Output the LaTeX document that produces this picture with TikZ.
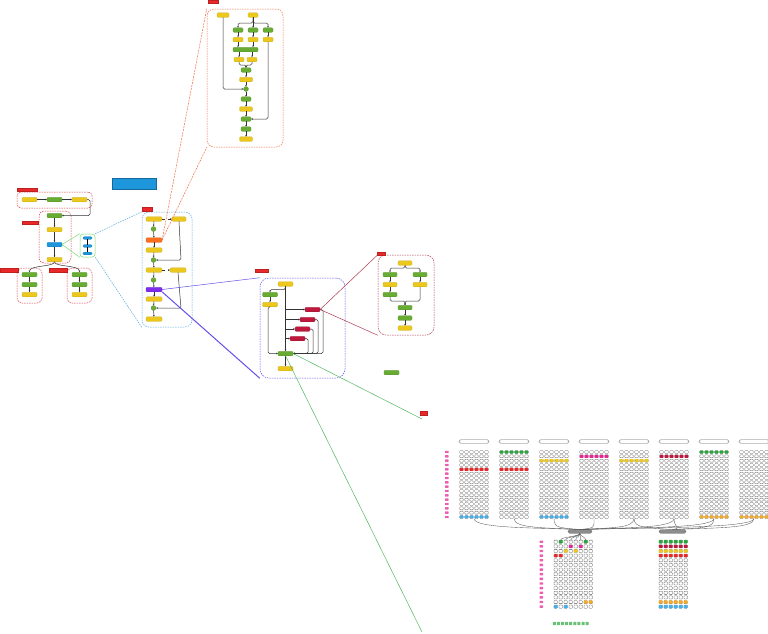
\documentclass[tikz,border=0pt]{standalone}
\usetikzlibrary{arrows.meta}
\definecolor{cYel}{RGB}{236,200,30}
\definecolor{cGrn}{RGB}{104,172,52}
\definecolor{cRed}{RGB}{235,40,40}
\definecolor{cBlu}{RGB}{30,150,220}
\definecolor{cOra}{RGB}{250,110,30}
\definecolor{cPur}{RGB}{125,45,235}
\definecolor{cCri}{RGB}{190,25,60}
\definecolor{cMag}{RGB}{230,40,150}
\definecolor{cAmb}{RGB}{245,170,40}
\definecolor{cSky}{RGB}{70,175,235}
\definecolor{cTG}{RGB}{40,165,60}
\definecolor{gOrg}{RGB}{240,110,70}
\definecolor{gRed}{RGB}{220,60,70}
\definecolor{gBlu}{RGB}{90,170,220}
\definecolor{gPur}{RGB}{100,80,235}
\definecolor{gDrk}{RGB}{170,60,80}
\definecolor{gLGr}{RGB}{120,220,110}
\begin{document}
\begin{tikzpicture}[x=1pt,y=-1pt,
  >={Stealth[length=1.8pt,width=1.6pt]},
  nd/.style={rectangle, rounded corners=1pt, inner sep=0pt, minimum height=4.5pt, minimum width=15pt, line width=0.2pt},
  yl/.style={nd, fill=cYel, draw=cYel!85!black},
  gn/.style={nd, fill=cGrn, draw=cGrn!85!black},
  bl/.style={nd, fill=cBlu, draw=cBlu!85!black},
  orn/.style={nd, fill=cOra, draw=cOra!85!black},
  pu/.style={nd, fill=cPur, draw=cPur!85!black},
  cr/.style={nd, fill=cCri, draw=cCri!85!black},
  ci/.style={circle, fill=cGrn, draw=cGrn!80!black, inner sep=0pt, minimum size=5pt, line width=0.2pt},
  lbl/.style={rectangle, fill=cRed, draw=cRed!80!black, inner sep=0pt, minimum height=3.5pt, line width=0.2pt},
  grp/.style={rectangle, rounded corners=7pt, inner sep=0pt, line width=0.5pt, dash pattern=on 1.5pt off 1pt},
  ed/.style={line width=0.5pt, draw=black!80, rounded corners=1.5pt},
  conn/.style={line width=0.35pt, draw=black!65},
  cell/.style={draw=black!65, line width=0.3pt, rounded corners=0.8pt, fill=white},
  hdr/.style={rectangle, rounded corners=1.6pt, draw=black!60, fill=white, line width=0.35pt, inner sep=0pt, minimum height=3.5pt, minimum width=30pt}
]
\useasboundingbox (0,0) rectangle (768,633);
\fill[white] (0,0) rectangle (768,633);

% ---------------- top orange group ----------------
\node[grp, draw=gOrg, minimum width=76pt, minimum height=138pt] (gO) at (245,78) {};
\node[lbl, minimum width=10pt] (lO) at (213,1.8) {};
\node[yl, minimum width=12pt] (f1) at (223,15) {};
\node[yl, minimum width=10pt] (f2) at (253,15) {};
\node[gn, minimum width=10pt] (f3) at (238,30) {};
\node[gn, minimum width=10pt] (f4) at (253,30) {};
\node[gn, minimum width=10pt] (f5) at (268,30) {};
\node[yl, minimum width=10pt] (f6) at (238,39.5) {};
\node[yl, minimum width=10pt] (f7) at (253,39.5) {};
\node[yl, minimum width=10pt] (f8) at (268,39.5) {};
\node[gn, minimum width=25pt] (f9) at (245.5,49.5) {};
\node[yl, minimum width=10pt] (f10) at (239,59.5) {};
\node[yl, minimum width=10pt] (f11) at (252,59.5) {};
\node[gn, minimum width=10pt] (f12) at (246,70) {};
\node[yl, minimum width=13pt] (f13) at (246,79.5) {};
\node[ci] (fc) at (246,89) {};
\node[gn, minimum width=10pt] (f14) at (246,99) {};
\node[yl, minimum width=13pt] (f15) at (246,109) {};
\node[gn, minimum width=10pt] (f16) at (246,119) {};
\node[gn, minimum width=10pt] (f17) at (246,129) {};
\node[yl, minimum width=13pt] (f18) at (246,139) {};
\draw[ed,->] (f1.south) -- (223,89) -- (fc.west);
\draw[ed,->] (f2.south) -- (253,23) -| (f3.north);
\draw[ed,->] (f2.south) -- (253,23) -| (f5.north);
\draw[ed,->] (f2) -- (f4);
\draw[ed,->] (f3) -- (f6);
\draw[ed,->] (f4) -- (f7);
\draw[ed,->] (f5) -- (f8);
\draw[ed,->] (f6) -- (f6 |- f9.north);
\draw[ed,->] (f7) -- (f7 |- f9.north);
\draw[ed,->] (f9.south -| f10) -- (f10);
\draw[ed,->] (f9.south -| f11) -- (f11);
\draw[ed,->] (f10.south) -- (239,65) -- (246,65) -- (f12.north);
\draw[ed,->] (f11.south) -- (252,65) -- (246,65) -- (f12.north);
\draw[ed,->] (f12) -- (f13);
\draw[ed,->] (f13) -- (fc);
\draw[ed,->] (fc) -- (f14);
\draw[ed,->] (f14) -- (f15);
\draw[ed,->] (f15) -- (f16);
\draw[ed,->] (f16) -- (f17);
\draw[ed,->] (f17) -- (f18);
\draw[ed,->] (f8.south) -- (268,119) -- (f16.east);

% ---------------- left cluster ----------------
\node[rectangle, fill=cBlu, draw=cBlu!70!black, line width=0.4pt, minimum width=44pt, minimum height=11pt, inner sep=0pt] (btn) at (134,183.5) {};

\node[grp, draw=gRed, minimum width=75pt, minimum height=16pt, rounded corners=4pt] (gB1) at (54.5,200) {};
\node[lbl, minimum width=20pt] (lB1) at (27,189.8) {};
\node[yl] (l1) at (29.5,199.5) {};
\node[gn] (l2) at (54.5,199.5) {};
\node[yl] (l3) at (79.5,199.5) {};
\draw[ed,->] (l1) -- (l2);
\draw[ed,->] (l2) -- (l3);

\node[grp, draw=gRed, minimum width=32pt, minimum height=52pt, rounded corners=5pt] (gB2) at (55,237) {};
\node[lbl, minimum width=16pt] (lB2) at (30,222.8) {};
\node[gn] (l4) at (54.5,215.5) {};
\node[yl] (l5) at (54.5,229.5) {};
\node[bl] (l6) at (54.5,244.5) {};
\node[yl] (l7) at (54.5,259.5) {};
\draw[ed,->] (l3.east) -- (90,199.5) -- (90,215.5) -- (l4.east);
\draw[ed,->] (l4) -- (l5);
\draw[ed,->] (l5) -- (l6);
\draw[ed,->] (l6) -- (l7);

\node[grp, draw=gRed, minimum width=25pt, minimum height=35pt, rounded corners=5pt] (gB3) at (29.5,285.5) {};
\node[lbl, minimum width=18pt] (lB3) at (9,270.3) {};
\node[grp, draw=gRed, minimum width=25pt, minimum height=35pt, rounded corners=5pt] (gB4) at (79.5,285.5) {};
\node[lbl, minimum width=18pt] (lB4) at (58,270.3) {};
\node[gn] (m1) at (29.5,274.5) {};
\node[gn] (m2) at (29.5,284.5) {};
\node[yl] (m3) at (29.5,294.5) {};
\node[gn] (m4) at (79.5,274.5) {};
\node[gn] (m5) at (79.5,284.5) {};
\node[yl] (m6) at (79.5,294.5) {};
\draw[ed,->] (l7.south) .. controls (54.5,267) and (29.5,265) .. (m1.north);
\draw[ed,->] (l7.south) .. controls (54.5,267) and (79.5,265) .. (m4.north);
\draw[ed,->] (m1) -- (m2);
\draw[ed,->] (m2) -- (m3);
\draw[ed,->] (m4) -- (m5);
\draw[ed,->] (m5) -- (m6);

\node[rectangle, rounded corners=3pt, draw=gLGr, line width=0.5pt, minimum width=15pt, minimum height=23pt, inner sep=0pt] (gG) at (87.5,245.5) {};
\node[bl, minimum width=9pt, minimum height=2.6pt] (b1) at (87.5,238) {};
\node[bl, minimum width=9pt, minimum height=2.6pt] (b2) at (87.5,246) {};
\node[bl, minimum width=9pt, minimum height=2.6pt] (b3) at (87.5,253.5) {};
\draw[line width=0.6pt, black] (b1) -- (b2);
\draw[line width=0.6pt, black] (b2) -- (b3);
\draw[gLGr, line width=0.5pt] (l6.east) -- (gG.north west);
\draw[gLGr, line width=0.5pt] (l6.east) -- (gG.south west);

% ---------------- middle blue column ----------------
\node[grp, draw=gBlu, minimum width=50pt, minimum height=115pt] (gC) at (167,269.5) {};
\node[lbl, minimum width=10pt] (lC) at (147,209) {};
\node[yl, minimum width=16pt] (c1) at (154,219) {};
\node[yl, minimum width=14pt] (c2) at (179,219) {};
\node[ci] (cc1) at (153.5,229) {};
\node[orn, minimum width=16pt] (c3) at (154,240) {};
\node[yl, minimum width=16pt] (c4) at (154,250) {};
\node[ci] (cc2) at (153.5,260) {};
\node[yl, minimum width=16pt] (c5) at (154,270) {};
\node[yl, minimum width=16pt] (c6) at (178,270) {};
\node[ci] (cc3) at (153.5,280) {};
\node[pu, minimum width=16pt] (c7) at (154,289.5) {};
\node[yl, minimum width=16pt] (c8) at (154,299) {};
\node[ci] (cc4) at (153.5,308) {};
\node[yl, minimum width=16pt] (c9) at (154,319) {};
\draw[ed,->] (c1) -- (cc1);
\draw[ed,->] (cc1) -- (c3);
\draw[ed,->] (c3) -- (c4);
\draw[ed,->] (c4) -- (cc2);
\draw[ed,->] (cc2) -- (c5);
\draw[ed,->] (c5) -- (cc3);
\draw[ed,->] (cc3) -- (c7);
\draw[ed,->] (c7) -- (c8);
\draw[ed,->] (c8) -- (cc4);
\draw[ed,->] (cc4) -- (c9);
\draw[ed,dashed,->] (c1) -- (c2);
\draw[ed,->] (c2.south) -- (181,260) -- (cc2.east);
\draw[ed,dashed,->] (c5) -- (c6);
\draw[ed,->] (c6.south) -- (181,308) -- (cc4.east);

\draw[gBlu, line width=0.5pt, dash pattern=on 1.5pt off 1pt] (gG.north east) -- (gC.north west);
\draw[gBlu, line width=0.5pt, dash pattern=on 1.5pt off 1pt] (gG.south east) -- (gC.south west);
\draw[gOrg, line width=0.5pt, dash pattern=on 2pt off 1pt] (c3.east) -- (gO.north west);
\draw[gOrg, line width=0.5pt, dash pattern=on 2pt off 1pt] (c3.east) -- (gO.south west);

% ---------------- purple group ----------------
\node[grp, draw=gPur, minimum width=85pt, minimum height=100pt, rounded corners=9pt] (gP) at (302.5,328) {};
\node[lbl, minimum width=13pt] (lP) at (261.5,270.8) {};
\node[yl] (p1) at (285.5,284) {};
\node[gn] (p2) at (270,294.5) {};
\node[yl] (p3) at (270,304.5) {};
\node[cr] (r1) at (312.5,309.5) {};
\node[cr] (r2) at (307.5,319.5) {};
\node[cr] (r3) at (302.5,329) {};
\node[cr] (r4) at (297.5,338.5) {};
\node[gn] (p4) at (285.5,353.5) {};
\node[yl] (p5) at (285.5,368.5) {};
\draw[ed,->] (p1) -- (p4);
\draw[ed,->] (p1.south) -- (285.5,289.5) -| (p2.north);
\draw[ed,->] (p2) -- (p3);
\draw[ed,->] (p3.south) -- (268,307) -- (268,353.5) -- (p4.west);
\draw[ed,->] (285.5,309.5) -- (r1.west);
\draw[ed,->] (285.5,319.5) -- (r2.west);
\draw[ed,->] (285.5,329) -- (r3.west);
\draw[ed,->] (285.5,338.5) -- (r4.west);
\draw[ed,->] (r1.east) -- (323,309.5) -- (323,353.5) -- (p4.east);
\draw[ed,->] (r2.east) -- (318,319.5) -- (318,353.5) -- (p4.east);
\draw[ed,->] (r3.east) -- (313,329) -- (313,353.5) -- (p4.east);
\draw[ed,->] (r4.east) -- (308,338.5) -- (308,353.5) -- (p4.east);
\draw[ed,->] (p4) -- (p5);

\draw[gPur, line width=0.5pt] (c7.east) -- (gP.north west);
\draw[gPur, line width=1pt] (c7.south east) -- (gP.south west);

% ---------------- right red group ----------------
\node[grp, draw=gDrk, minimum width=56pt, minimum height=80pt, rounded corners=8pt] (gQ) at (406,295) {};
\node[lbl, minimum width=8pt] (lQ) at (380.8,253.8) {};
\node[yl, minimum width=14pt] (q1) at (405,263) {};
\node[gn, minimum width=14pt] (q2) at (390,274.5) {};
\node[gn, minimum width=14pt] (q3) at (420,274.5) {};
\node[yl, minimum width=14pt] (q4) at (390,284.5) {};
\node[yl, minimum width=14pt] (q5) at (420,284.5) {};
\node[gn, minimum width=14pt] (q6) at (390,294.5) {};
\node[gn, minimum width=14pt] (q7) at (405,307.5) {};
\node[gn, minimum width=14pt] (q8) at (405,318) {};
\node[yl, minimum width=14pt] (q9) at (405,328) {};
\draw[ed,->] (q1.south) -- (405,268) -| (q2.north);
\draw[ed,->] (q1.south) -- (405,268) -| (q3.north);
\draw[ed,->] (q2) -- (q4);
\draw[ed,->] (q4) -- (q6);
\draw[ed,->] (q3) -- (q5);
\draw[ed,->] (q6.south) -- (390,301) -- (405,301) -- (q7.north);
\draw[ed,->] (q5.south) -- (420,301) -- (405,301) -- (q7.north);
\draw[ed,->] (q7) -- (q8);
\draw[ed,->] (q8) -- (q9);
\draw[gDrk, line width=0.5pt] (r1.east) -- (gQ.north west);
\draw[gDrk, line width=0.5pt] (r1.east) -- (gQ.south west);

% loose elements
\node[gn] (z1) at (391.5,372.5) {};
\node[lbl, minimum width=7pt, minimum height=4pt] (z2) at (423.5,413) {};
\coordinate (e1) at (422,419);
\coordinate (e2) at (422,632);
\draw[cTG!80, line width=0.5pt] (p4.east) -- (e1);
\draw[cTG!80, line width=0.5pt] (p4.south) -- (e2);

% ---------------- tables ----------------
\foreach \k in {0,...,7}{
  \pgfmathsetmacro{\xo}{459+40*\k}
  \node[hdr] (h\k) at (\xo+15,441.5) {};
  \foreach \i in {0,...,15}{
    \foreach \j in {0,...,5}{
      \draw[cell] ({\xo+2.5+5*\j-1.8},{452+4.33*\i-1.5}) rectangle ++(3.6,3);
    }
  }
  \coordinate (tb\k) at (\xo+15,518.5);
}
\foreach \k/\r/\c in {0/4/cRed, 0/15/cSky, 1/0/cTG, 1/4/cRed, 2/2/cYel, 2/15/cSky, 3/1/cMag, 4/2/cYel, 5/1/cCri, 6/0/cTG, 6/15/cAmb, 7/15/cAmb}{
  \foreach \j in {0,...,5}{
    \fill[\c, rounded corners=0.6pt] ({459+40*\k+2.5+5*\j-1.8},{452+4.33*\r-1.5}) rectangle ++(3.6,3);
  }
}
\foreach \i in {0,...,15}{
  \fill[cMag!75, rounded corners=0.4pt] (445,{452+4.33*\i-1.2}) rectangle ++(3.5,2.4);
}

% bottom table 1
\node[hdr, minimum width=24pt, fill=black!45] (hB1) at (580,531.5) {};
\foreach \i in {0,...,14}{
  \foreach \j in {0,...,7}{
    \draw[cell] ({555.7+5*\j-1.8},{541.7+4.64*\i-1.6}) rectangle ++(3.6,3.2);
  }
}
\foreach \r/\j/\c in {0/1/cTG, 0/6/cTG, 1/3/cMag, 1/5/cMag, 2/2/cYel, 2/4/cYel, 3/0/cRed, 3/1/cRed, 13/6/cAmb, 13/7/cAmb, 14/0/cSky, 14/2/cSky}{
  \fill[\c, rounded corners=0.6pt] ({555.7+5*\j-1.8},{541.7+4.64*\r-1.6}) rectangle ++(3.6,3.2);
}
\foreach \i in {0,...,14}{
  \fill[cMag!75, rounded corners=0.4pt] (539.5,{541.7+4.64*\i-1.2}) rectangle ++(3.5,2.4);
}
\foreach \m in {0,...,8}{
  \fill[cTG!70, rounded corners=0.4pt] ({554.3+4.1*\m-1.5},621.8) rectangle ++(3,3.4);
}
\foreach \j in {1,...,6}{
  \draw[conn] (hB1.south) .. controls +(0,3) and +(0,-3) .. ({555.7+5*\j},539.9);
}

% bottom table 2
\node[hdr, minimum width=27pt, fill=black!45] (hB2) at (672.5,531.5) {};
\foreach \i in {0,...,14}{
  \foreach \j in {0,...,5}{
    \draw[cell] ({660.7+5*\j-1.8},{541.7+4.64*\i-1.6}) rectangle ++(3.6,3.2);
  }
}
\foreach \r/\c in {0/cTG, 1/cCri, 2/cYel, 3/cRed, 13/cAmb, 14/cSky}{
  \foreach \j in {0,...,5}{
    \fill[\c, rounded corners=0.6pt] ({660.7+5*\j-1.8},{541.7+4.64*\r-1.6}) rectangle ++(3.6,3.2);
  }
}

% connectors from top tables
\foreach \k/\d in {0/-45,1/-35,2/-20,3/15,4/30,5/40,6/50,7/60}{
  \draw[conn] (tb\k) .. controls +(0,10) and +(\d,-2) .. (hB1.north);
}
\foreach \k/\d in {4/-25,5/10,6/30,7/45}{
  \draw[conn] (tb\k) .. controls +(0,10) and +(\d,-2) .. (hB2.north);
}
\end{tikzpicture}
\end{document}
